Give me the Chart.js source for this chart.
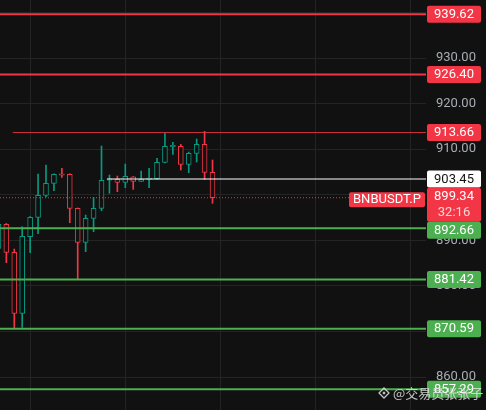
<!DOCTYPE html>
<html>
<head>
<meta charset="utf-8">
<script src="https://cdn.jsdelivr.net/npm/chart.js@4.4.1/dist/chart.umd.min.js"></script>
<style>
  html, body { margin: 0; padding: 0; background: #111111; }
  #wrap { width: 486px; height: 410px; }
</style>
</head>
<body>
<div id="wrap"><canvas id="c" width="486" height="410"></canvas></div>
<script>
// ---- data ----
const candleIndex = [0,1,2,3,4,5,6,7,8,9,10,11,12,13,14,15,16,17,18,19,20,21,22,23,24,25,26,27];
const opens  = [888.23,893.49,887.35,873.96,890.79,895.03,899.86,902.49,904.58,904.47,897.00,889.54,894.81,897.00,903.20,903.37,902.71,903.95,902.93,903.35,903.52,907.10,910.55,910.61,906.66,909.07,911.05,904.91];
const highs  = [893.60,893.70,888.08,892.98,895.20,904.54,906.51,904.60,905.78,904.60,897.10,895.54,899.42,910.68,904.32,904.10,906.73,904.00,905.20,905.78,907.98,913.46,911.49,911.05,909.37,912.22,913.90,907.61];
const lows   = [887.90,885.08,870.67,870.89,887.28,891.45,899.50,900.88,903.81,893.86,881.42,887.50,891.88,896.49,900.30,900.66,901.54,901.17,902.90,901.54,903.37,907.00,908.86,905.42,904.83,907.17,903.37,898.10];
const closes = [893.49,887.35,873.96,890.86,895.03,899.86,902.49,904.47,904.30,897.00,889.54,894.81,897.00,903.15,903.50,902.71,904.03,902.93,903.37,903.65,907.10,910.61,910.85,906.66,909.07,911.05,904.91,899.34];

const resistanceLevels = [939.62, 926.40];
const thinResistance = 913.66;
const thinResistanceStart = 1.8;
const markPrice = 903.45;
const markPriceStart = 13.7;
const lastPrice = 899.34;
const supportLevels = [892.66, 881.42, 870.59, 857.29];
const symbolName = 'BNBUSDT.P';
const countdown = '32:16';
const watermark = '@交易员张张子';
const priceTicks = [860, 870, 880, 890, 900, 910, 920, 930, 940];
const timeGridTicks = [4, 16, 28, 40, 52];
const xMin = 0.2, xMax = 53.92;
const yMin = 852.76, yMax = 942.73;

// ---- styles ----
const UP = '#089981', DOWN = '#f23645', RES = '#f23645', SUP = '#4caf50', BG = '#111111';

Chart.defaults.font.family = 'Roboto, "Noto Sans", sans-serif';

const isUp = candleIndex.map(i => closes[i] >= opens[i]);
const colors = candleIndex.map(i => isUp[i] ? UP : DOWN);

function hLine(value, color, width, start, dash) {
  return {
    type: 'line',
    data: [{x: start, y: value}, {x: xMax, y: value}],
    borderColor: color, borderWidth: width, borderDash: dash || [],
    pointRadius: 0, fill: false, tension: 0, order: 0
  };
}

const datasets = [
  ...resistanceLevels.map(v => hLine(v, RES, 2, xMin)),
  hLine(thinResistance, 'rgba(242,54,69,0.85)', 1, thinResistanceStart),
  hLine(markPrice, '#ffffff', 1, markPriceStart),
  hLine(lastPrice, RES, 1, xMin, [1, 2]),
  ...supportLevels.map(v => hLine(v, SUP, 2, xMin)),
  {
    type: 'bar',
    data: candleIndex.map(i => ({x: i, y: [opens[i], closes[i]]})),
    backgroundColor: BG, borderColor: colors, borderWidth: 1, borderSkipped: false,
    barThickness: 5, grouped: false, order: 1
  },
  {
    type: 'bar',
    data: candleIndex.map(i => ({x: i, y: [lows[i], highs[i]]})),
    backgroundColor: colors, borderWidth: 0,
    barThickness: 1, grouped: false, order: 2
  }
];

function roundRect(ctx, x, y, w, h, r) {
  ctx.beginPath();
  ctx.moveTo(x + r, y);
  ctx.lineTo(x + w - r, y); ctx.quadraticCurveTo(x + w, y, x + w, y + r);
  ctx.lineTo(x + w, y + h - r); ctx.quadraticCurveTo(x + w, y + h, x + w - r, y + h);
  ctx.lineTo(x + r, y + h); ctx.quadraticCurveTo(x, y + h, x, y + h - r);
  ctx.lineTo(x, y + r); ctx.quadraticCurveTo(x, y, x + r, y);
  ctx.closePath();
  ctx.fill();
}

const overlay = {
  id: 'overlay',
  afterDraw(chart) {
    const {ctx, chartArea, scales: {y}} = chart;
    const bx = chartArea.right + 1, bw = 54, bh = 17;
    ctx.save();
    ctx.textBaseline = 'middle';
    ctx.textAlign = 'center';
    ctx.font = '13px Roboto, "Noto Sans", sans-serif';

    const ly = y.getPixelForValue(lastPrice);
    const tw = ctx.measureText(symbolName).width + 8;
    ctx.fillStyle = DOWN;
    roundRect(ctx, chartArea.right - 1 - tw, ly - 5.5, tw, 15, 2);
    ctx.fillStyle = '#ffffff';
    ctx.fillText(symbolName, chartArea.right - 1 - tw / 2, ly + 2);

    const boxes = [
      ...resistanceLevels.map(v => ({v, bg: RES, fg: '#fff'})),
      {v: thinResistance, bg: RES, fg: '#fff'},
      {v: markPrice, bg: '#ffffff', fg: '#131313'},
      {v: lastPrice, bg: DOWN, fg: '#fff', sub: countdown, h: 34},
      ...supportLevels.map(v => ({v, bg: SUP, fg: '#fff'}))
    ].sort((a, b) => b.v - a.v);

    let prevBottom = -Infinity;
    boxes.forEach(b => {
      const h = b.h || bh;
      const cy = y.getPixelForValue(b.v);
      let top = b.sub ? cy - 10 : cy - h / 2;
      if (top < prevBottom) top = prevBottom;
      ctx.fillStyle = b.bg;
      roundRect(ctx, bx, top, bw, h, 2);
      ctx.fillStyle = b.fg;
      if (b.sub) {
        ctx.fillText(b.v.toFixed(2), bx + bw / 2, top + 9.5);
        ctx.fillStyle = 'rgba(255,255,255,0.78)';
        ctx.fillText(b.sub, bx + bw / 2, top + 25.5);
      } else {
        ctx.fillText(b.v.toFixed(2), bx + bw / 2, top + h / 2 + 0.5);
      }
      prevBottom = top + h;
    });

    ctx.textAlign = 'left';
    ctx.font = '13px "Noto Sans CJK SC", sans-serif';
    ctx.fillStyle = 'rgba(225,225,225,0.85)';
    ctx.fillText(watermark, 393, 393);
    const lx = 384, lyy = 393;
    ctx.strokeStyle = 'rgba(225,225,225,0.85)';
    ctx.lineWidth = 1.3;
    ctx.beginPath();
    ctx.moveTo(lx, lyy - 5); ctx.lineTo(lx + 5, lyy); ctx.lineTo(lx, lyy + 5); ctx.lineTo(lx - 5, lyy); ctx.closePath();
    ctx.stroke();
    ctx.fillStyle = 'rgba(225,225,225,0.85)';
    ctx.fillRect(lx - 1.2, lyy - 1.2, 2.4, 2.4);
    ctx.restore();
  }
};

const bgPlugin = {
  id: 'bg',
  beforeDraw(chart) {
    const ctx = chart.ctx;
    ctx.save();
    ctx.fillStyle = BG;
    ctx.fillRect(0, 0, chart.width, chart.height);
    ctx.restore();
  }
};

new Chart(document.getElementById('c'), {
  type: 'bar',
  data: { datasets },
  options: {
    responsive: false,
    devicePixelRatio: 1,
    animation: false,
    layout: { padding: 0 },
    plugins: { legend: { display: false }, tooltip: { enabled: false } },
    scales: {
      x: {
        type: 'linear', min: xMin, max: xMax, offset: false,
        grid: { color: '#242424', drawTicks: false, offset: false },
        border: { display: false },
        ticks: { display: false },
        afterBuildTicks(scale) { scale.ticks = timeGridTicks.map(v => ({value: v})); },
        afterFit(scale) { scale.height = 0; scale.paddingLeft = 0; scale.paddingRight = 0; scale.paddingTop = 0; scale.paddingBottom = 0; }
      },
      y: {
        position: 'right', min: yMin, max: yMax,
        grid: { color: '#242424', drawTicks: false },
        border: { display: false },
        ticks: {
          includeBounds: false, padding: 10,
          color: '#a9acb4', font: { size: 13 },
          callback: v => v.toFixed(2)
        },
        afterBuildTicks(scale) { scale.ticks = priceTicks.map(v => ({value: v})); },
        afterFit(scale) { scale.width = 60; scale.paddingTop = 0; scale.paddingBottom = 0; scale.paddingLeft = 0; scale.paddingRight = 0; }
      }
    }
  },
  plugins: [bgPlugin, overlay]
});
</script>
</body>
</html>
